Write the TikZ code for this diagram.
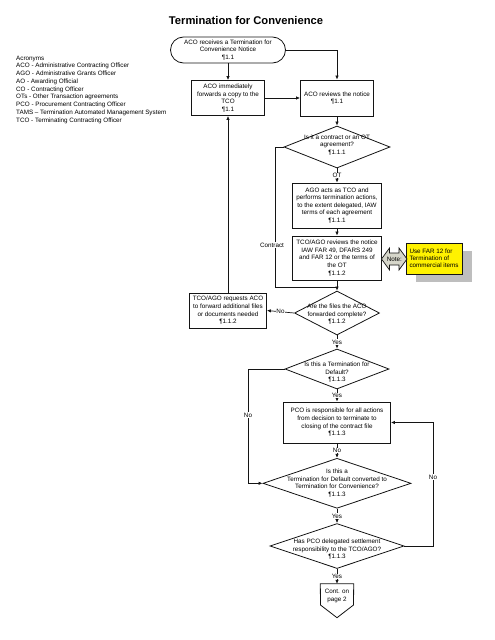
\documentclass[tikz,border=0pt]{standalone}
\usepackage{fontspec}
\setmainfont{Liberation Sans}
\usetikzlibrary{shapes.geometric,arrows.meta}
\definecolor{notegray}{RGB}{214,214,202}
\definecolor{shadowgray}{RGB}{190,190,190}
\definecolor{lineblack}{RGB}{20,20,20}
\tikzset{
  box/.style={draw=lineblack, line width=0.8pt, fill=white, align=center, inner sep=0pt},
  dia/.style={draw=lineblack, shape=diamond, inner sep=0pt, line width=0.8pt, fill=white},
  txt/.style={align=center, inner sep=0pt},
  conn/.style={draw=lineblack, line width=0.7pt},
  arr/.style={conn, -{Latex[length=4pt,width=3.4pt]}},
  lab/.style={fill=white, inner sep=0.6pt}
}
\begin{document}
\begin{tikzpicture}[x=1pt,y=-1pt, font=\fontsize{6.3}{7.6}\selectfont]
\useasboundingbox (0,0) rectangle (495,640);

% title and acronyms
\node[font=\fontsize{11.2}{13}\bfseries\selectfont, inner sep=0] (title) at (246,20) {Termination for Convenience};
\node[anchor=north west, align=left, inner sep=0, font=\fontsize{6.3}{7.75}\selectfont] (acr) at (16,55.5)
 {Acronyms\\ACO - Administrative Contracting Officer\\AGO - Administrative Grants Officer\\AO -  Awarding Official\\CO - Contracting Officer\\OTs - Other Transaction agreements\\PCO - Procurement Contracting Officer\\TAMS -- Termination Automated Management System\\TCO - Terminating Contracting Officer};

% nodes
\node[box, rounded corners=13pt, minimum width=115pt, minimum height=26pt] (term) at (228,50) {ACO receives a Termination for\\Convenience Notice\\¶1.1};
\node[box, minimum width=73pt, minimum height=35pt] (b1) at (228,98) {ACO immediately\\forwards a copy to the\\TCO\\¶1.1};
\node[box, minimum width=73pt, minimum height=36pt] (b2) at (337,98) {ACO reviews the notice\\¶1.1};
\node[dia, minimum width=106pt, minimum height=42pt] (d1) at (337,147) {};
\node[txt] (d1t) at (337,145) {Is it a contract or an OT\\agreement?\\¶1.1.1};
\node[box, minimum width=89pt, minimum height=45pt] (b3) at (337,205.5) {AGO acts as TCO and\\performs termination actions,\\to the extent delegated, IAW\\terms of each agreement\\¶1.1.1};
\node[box, minimum width=89pt, minimum height=44pt] (b4) at (337,258) {TCO/AGO reviews the notice\\IAW FAR 49, DFARS 249\\and FAR 12 or the terms of\\the OT\\¶1.1.2};

% note
\fill[shadowgray] (415.5,250.5) rectangle (471.5,281.5);
\node[draw=lineblack, line width=0.8pt, fill=yellow, minimum width=56pt, minimum height=31pt, inner sep=0, align=left, font=\fontsize{6.3}{7}\selectfont] (ynote) at (434,258.5) {Use FAR 12 for\\Termination of\\commercial items};
\draw[draw=lineblack, line width=0.7pt, fill=notegray] (381.5,259) -- (389.5,248) -- (389.5,253) -- (399,253) -- (399,248) -- (407,259) -- (399,270) -- (399,265) -- (389.5,265) -- (389.5,270) -- cycle;
\node[inner sep=0] (note) at (394.3,259) {Note:};

\node[dia, minimum width=85pt, minimum height=44pt] (d2) at (337,313) {};
\node[txt] (d2t) at (337,314.5) {Are the files the ACO\\forwarded complete?\\¶1.1.2};
\node[box, minimum width=77pt, minimum height=35pt] (b5) at (228,310.5) {TCO/AGO requests ACO\\to forward additional files\\or documents needed\\¶1.1.2};
\node[dia, minimum width=104pt, minimum height=40pt] (d3) at (337,369) {};
\node[txt] (d3t) at (337,372.5) {Is this a Termination for\\Default?\\¶1.1.3};
\node[box, minimum width=107pt, minimum height=41pt] (b6) at (337,422.5) {PCO is responsible for all actions\\from decision to terminate to\\closing of the contract file\\¶1.1.3};
\node[dia, minimum width=148pt, minimum height=50pt] (d4) at (337,483.3) {};
\node[txt] (d4t) at (337,483.2) {Is this a\\Termination for Default converted to\\Termination for Convenience?\\¶1.1.3};
\node[dia, minimum width=134pt, minimum height=45pt] (d5) at (337,546) {};
\node[txt] (d5t) at (337,549.5) {Has PCO delegated settlement\\responsibility to the TCO/AGO?\\¶1.1.3};

% off-page connector
\node[inner sep=0, minimum width=33pt, minimum height=33.5pt] (off) at (337,600.75) {};
\draw[draw=lineblack, line width=0.8pt, fill=white] (off.north west) -- (off.north east) -- (353.5,605) -- (off.south) -- (320.5,605) -- cycle;
\node[txt] (offt) at (337,596) {Cont. on\\page 2};

% coordinates for bends
\coordinate (cl) at (275,287);
\coordinate (jn) at (337,287);
\coordinate (nl) at (248,0);
\coordinate (nr) at (433,0);

% connectors
\draw[arr] (term.south) -- (b1.north);
\draw[arr] (term.east) -| (b2.north);
\draw[arr] (b1.east) -- (b2.west);
\draw[arr] (b2.south) -- (d1.north);
\draw[arr] (d1.south) -- node[lab] (lot) {OT} (b3.north);
\draw[arr] (b3.south) -- (b4.north);
\draw[arr] (b4.south) -- (d2.north);
\draw[conn] (d1.west) -| (cl) -- (jn);
\node[lab] (lcon) at (272,245) {Contract};
\draw[arr] (d2.west) -- node[lab] (lno1) {No} (b5.east);
\draw[arr] (b5.north) -- (b1.south);
\draw[arr] (d2.south) -- node[lab] (lyes1) {Yes} (d3.north);
\draw[arr] (d3.south) -- node[lab] (lyes2) {Yes} (b6.north);
\draw[arr] (d3.west) -- (d3.west -| nl) -- (nl |- d4.west) -- (d4.west);
\node[lab] (lno2) at (248,415) {No};
\draw[arr] (b6.south) -- node[lab] (lno3) {No} (d4.north);
\draw[arr] (d4.south) -- node[lab] (lyes3) {Yes} (d5.north);
\draw[arr] (d5.east) -- (d5.east -| nr) -- (nr |- b6.east) -- (b6.east);
\node[lab] (lno4) at (433,477) {No};
\draw[arr] (d5.south) -- node[lab] (lyes4) {Yes} (off.north);
\end{tikzpicture}
\end{document}
